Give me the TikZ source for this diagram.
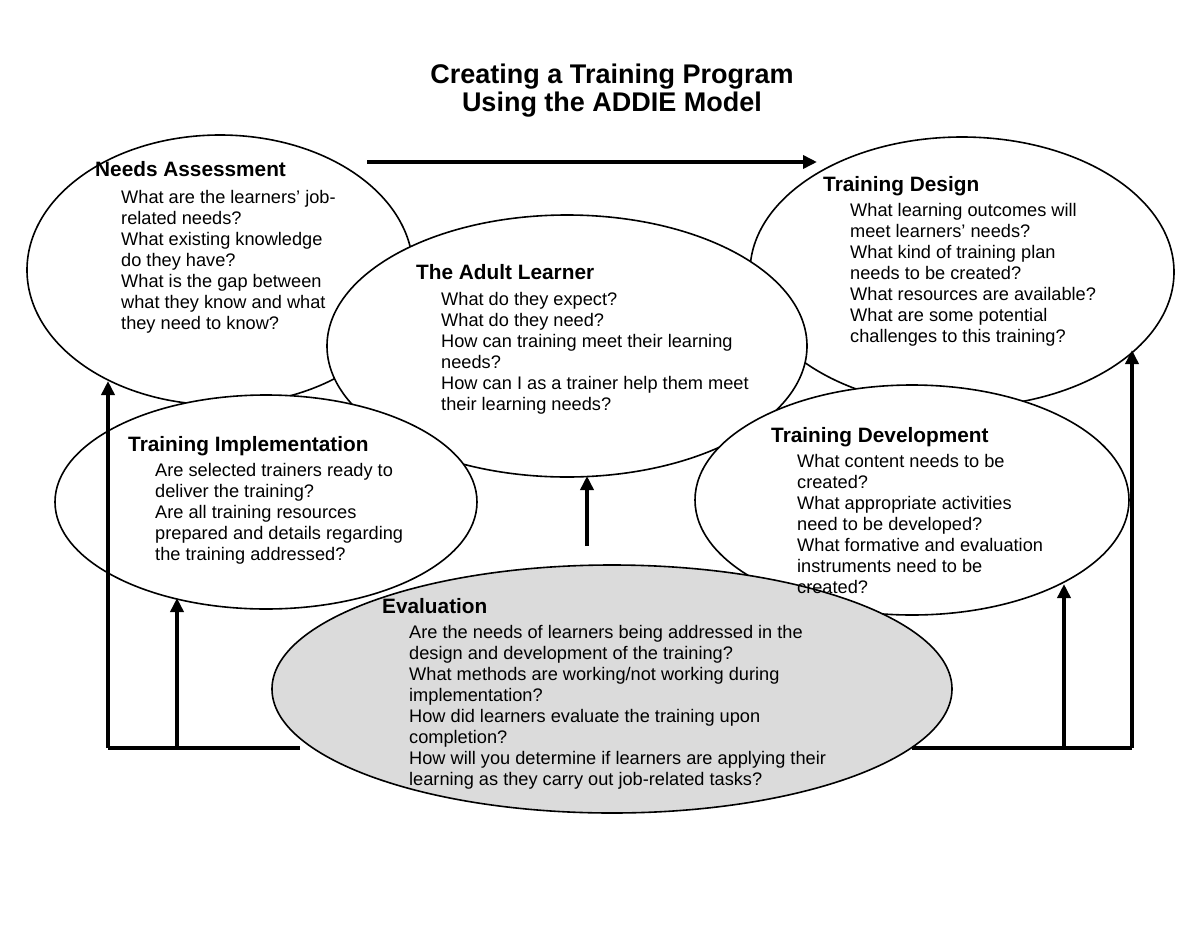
\documentclass[tikz,border=0pt]{standalone}
\usepackage{fontspec}
\setmainfont{Liberation Sans}
\usetikzlibrary{arrows.meta}
\begin{document}
\begin{tikzpicture}[x=1pt,y=-1pt,
  ell/.style={draw,line width=1.6pt,fill=white},
  hd/.style={anchor=north west,inner sep=0,font=\fontsize{20.8}{25}\selectfont\bfseries},
  bd/.style={anchor=north west,inner sep=0,align=left,font=\fontsize{18.2}{21}\selectfont},
  arr/.style={line width=4pt,-{Triangle[length=14pt,width=13pt]}},
  ln/.style={line width=4pt}]
\useasboundingbox (0,0) rectangle (1200,927);
\node[font=\fontsize{27}{28}\selectfont\bfseries,align=center] (title) at (612,91) {Creating a Training Program\\Using the ADDIE Model};
\draw[ell] (220,270) ellipse [x radius=193,y radius=135];
\draw[ell] (962,272) ellipse [x radius=212,y radius=135];
\draw[ell] (567,346) ellipse [x radius=240,y radius=131];
\draw[ell] (266,502) ellipse [x radius=211,y radius=107];
\draw[ell] (912,500) ellipse [x radius=217,y radius=115];
\draw[ell,fill=black!14] (612,689) ellipse [x radius=340,y radius=124];
\node[hd] (na) at (95,161) {Needs Assessment};
\node[bd] (nab) at (121,190) {What are the learners' job-\\related needs?\\What existing knowledge\\do they have?\\What is the gap between\\what they know and what\\they need to know?};
\node[hd] (td) at (823,176) {Training Design};
\node[bd] (tdb) at (850,203) {What learning outcomes will\\meet learners' needs?\\What kind of training plan\\needs to be created?\\What resources are available?\\What are some potential\\challenges to this training?};
\node[hd] (al) at (416,264) {The Adult Learner};
\node[bd] (alb) at (441,292) {What do they expect?\\What do they need?\\How can training meet their learning\\needs?\\How can I as a trainer help them meet\\their learning needs?};
\node[hd] (ti) at (128,436) {Training Implementation};
\node[bd] (tib) at (155,463) {Are selected trainers ready to\\deliver the training?\\Are all training resources\\prepared and details regarding\\the training addressed?};
\node[hd] (tv) at (771,427) {Training Development};
\node[bd] (tvb) at (797,454) {What content needs to be\\created?\\What appropriate activities\\need to be developed?\\What formative and evaluation\\instruments need to be\\created?};
\node[hd] (ev) at (382,598) {Evaluation};
\node[bd] (evb) at (409,625) {Are the needs of learners being addressed in the\\design and development of the training?\\What methods are working/not working during\\implementation?\\How did learners evaluate the training upon\\completion?\\How will you determine if learners are applying their\\learning as they carry out job-related tasks?};
\coordinate (a1) at (367,162); \coordinate (a2) at (817,162);
\draw[arr] (a1) -- (a2);
\coordinate (l0) at (300,748); \coordinate (l1) at (108,748); \coordinate (l2) at (108,381);
\coordinate (l3) at (177,748); \coordinate (l4) at (177,598);
\draw[ln] (l0) -- (l1);
\draw[arr] (l1) -- (l2);
\draw[arr] (l3) -- (l4);
\coordinate (c0) at (587,546); \coordinate (c1) at (587,476);
\draw[arr] (c0) -- (c1);
\coordinate (r0) at (912,748); \coordinate (r1) at (1132,748); \coordinate (r2) at (1132,350);
\coordinate (r3) at (1064,748); \coordinate (r4) at (1064,584);
\draw[ln] (r0) -- (r1);
\draw[arr] (r1) -- (r2);
\draw[arr] (r3) -- (r4);
\end{tikzpicture}
\end{document}
